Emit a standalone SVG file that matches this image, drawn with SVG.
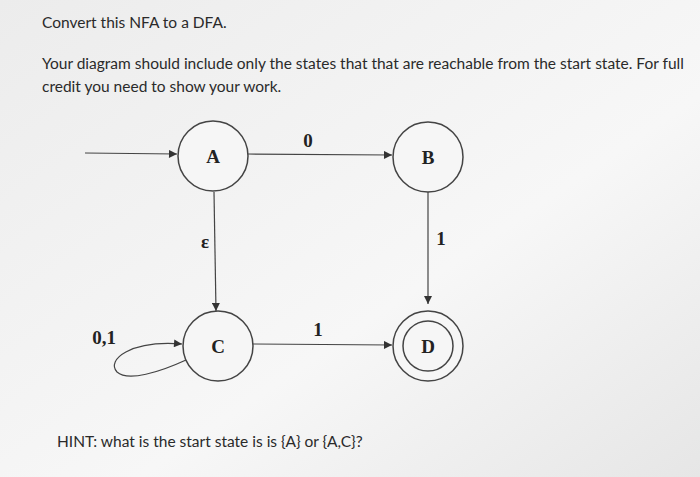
<svg xmlns="http://www.w3.org/2000/svg" width="700" height="477" viewBox="0 0 700 477">
<defs>
<marker id="ar" viewBox="0 0 10 10" refX="10" refY="5" markerWidth="13" markerHeight="8" orient="auto" markerUnits="userSpaceOnUse"><path d="M0,0 L10,5 L0,10 z" fill="#333"/></marker>
<linearGradient id="bg" x1="0" y1="0" x2="1" y2="1"><stop offset="0" stop-color="#ececec"/><stop offset="0.6" stop-color="#f7f7f7"/><stop offset="1" stop-color="#e6e6e6"/></linearGradient>
</defs>
<style>
.t{font-family:Lato,"Liberation Sans",sans-serif;font-size:15.5px;fill:#2a2a2a}
.s{fill:#f6f6f6;stroke:#444;stroke-width:1.5}
.l{font-family:"Liberation Serif",serif;font-size:19px;font-weight:bold;fill:#222;text-anchor:middle}
.e{stroke:#444;stroke-width:1.2;fill:none}
</style>
<rect width="700" height="477" fill="url(#bg)"/>
<text class="t" x="42" y="28">Convert this NFA to a DFA.</text>
<text class="t" x="42" y="69">Your diagram should include only the states that that are reachable from the start state. For full</text>
<text class="t" x="42" y="92">credit you need to show your work.</text>
<text class="t" x="57" y="447">HINT: what is the start state is is {A} or {A,C}?</text>
<g id="connectors">
<line class="e" x1="85" y1="153" x2="177" y2="154" marker-end="url(#ar)"/>
<line class="e" x1="248" y1="154" x2="392" y2="155" marker-end="url(#ar)"/>
<line class="e" x1="214" y1="192" x2="216" y2="311" marker-end="url(#ar)"/>
<line class="e" x1="428" y1="192" x2="428" y2="304" marker-end="url(#ar)"/>
<line class="e" x1="253" y1="344" x2="392" y2="345" marker-end="url(#ar)"/>
<path class="e" d="M186,360 C160,372 128,382 117,372 C106,360 130,340 182,344" marker-end="url(#ar)"/>
<text class="l" x="308" y="147">0</text>
<text class="l" x="205" y="248">ε</text>
<text class="l" x="441" y="245">1</text>
<text class="l" x="318" y="336">1</text>
<text class="l" x="104" y="344">0,1</text>
</g>
<g id="A"><circle class="s" cx="213" cy="156" r="35"/><text class="l" x="213" y="163">A</text></g>
<g id="B"><circle class="s" cx="428" cy="157" r="35"/><text class="l" x="428" y="164">B</text></g>
<g id="C"><circle class="s" cx="218" cy="346" r="35"/><text class="l" x="218" y="353">C</text></g>
<g id="D"><circle class="s" cx="428" cy="346" r="35"/><circle class="s" cx="428" cy="346" r="25"/><text class="l" x="428" y="353">D</text></g>
</svg>
